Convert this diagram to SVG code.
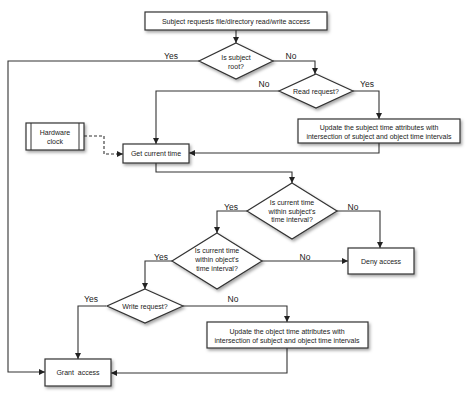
<svg xmlns="http://www.w3.org/2000/svg" width="474" height="403" viewBox="0 0 474 403">
<defs>
<filter id="sh" x="-20%" y="-20%" width="150%" height="170%">
<feDropShadow dx="1.5" dy="2" stdDeviation="1.5" flood-color="#000" flood-opacity="0.35"/>
</filter>
<marker id="ar" viewBox="0 0 10 10" refX="10" refY="5" markerWidth="6" markerHeight="6" orient="auto" markerUnits="userSpaceOnUse">
<path d="M0,0 L10,5 L0,10 z" fill="#222"/>
</marker>
</defs>
<style>
.n{fill:#fff;stroke:#333;stroke-width:1.2;filter:url(#sh)}
.t{font-family:"Liberation Sans",Arial,sans-serif;font-size:7px;fill:#222;text-anchor:middle}
.l{font-family:"Liberation Sans",Arial,sans-serif;font-size:8.5px;fill:#222;text-anchor:middle}
.c{fill:none;stroke:#333;stroke-width:1.1}
.a{marker-end:url(#ar)}
.d{stroke-dasharray:3,2}
</style>
<rect width="474" height="403" fill="#fff"/>
<g id="connectors">
<path class="c a" d="M236,30 V43"/>
<path class="c a" d="M199,61 H8 V372 H45"/>
<path class="c a" d="M273,61 H315 V74"/>
<path class="c a" d="M279,91 H156 V144"/>
<path class="c a" d="M353,91 H379 V119"/>
<path class="c a" d="M379,143 V153 H189"/>
<path class="c a d" d="M84,136 H104 V154 H123"/>
<path class="c a" d="M156,163 V172 H292 V183"/>
<path class="c a" d="M247,211 H217 V233"/>
<path class="c a" d="M337,211 H380 V248"/>
<path class="c a" d="M262,261 H348"/>
<path class="c a" d="M172,261 H145 V289"/>
<path class="c a" d="M106,306 H78 V359"/>
<path class="c a" d="M183,306 H287 V322"/>
<path class="c a" d="M287,348 V373 H111"/>
<text class="l" x="171" y="59">Yes</text>
<text class="l" x="291" y="59">No</text>
<text class="l" x="264" y="87">No</text>
<text class="l" x="367" y="87">Yes</text>
<text class="l" x="231" y="210">Yes</text>
<text class="l" x="353" y="210">No</text>
<text class="l" x="161" y="260">Yes</text>
<text class="l" x="305" y="260">No</text>
<text class="l" x="91" y="302">Yes</text>
<text class="l" x="233" y="302">No</text>
</g>
<g id="start">
<rect class="n" x="145" y="12" width="182" height="18"/>
<text class="t" x="236" y="23.5">Subject requests file/directory read/write access</text>
</g>
<g id="isroot">
<polygon class="n" points="236,43 273,61 236,79 199,61"/>
<text class="t" x="236" y="59.5">Is subject</text>
<text class="t" x="236" y="68.5">root?</text>
</g>
<g id="readreq">
<polygon class="n" points="316,74 353,91 316,108 279,91"/>
<text class="t" x="316" y="93.5">Read request?</text>
</g>
<g id="update1">
<rect class="n" x="298" y="119" width="162" height="24"/>
<text class="t" x="379" y="130">Update the subject time attributes with</text>
<text class="t" x="379" y="138.5">intersection of subject and object time intervals</text>
</g>
<g id="clock">
<rect class="n" x="26" y="123" width="58" height="27"/>
<line x1="31" y1="123" x2="31" y2="150" stroke="#333" stroke-width="1"/>
<line x1="79" y1="123" x2="79" y2="150" stroke="#333" stroke-width="1"/>
<text class="t" x="55" y="135">Hardware</text>
<text class="t" x="55" y="143.5">clock</text>
</g>
<g id="gettime">
<rect class="n" x="123" y="144" width="66" height="19"/>
<text class="t" x="156" y="155.5">Get current time</text>
</g>
<g id="subjint">
<polygon class="n" points="292,183 337,211 292,239 247,211"/>
<text class="t" x="292" y="205">Is current time</text>
<text class="t" x="292" y="213.5">within subject's</text>
<text class="t" x="292" y="222">time interval?</text>
</g>
<g id="deny">
<rect class="n" x="348" y="248" width="66" height="26"/>
<text class="t" x="381" y="263.5">Deny access</text>
</g>
<g id="objint">
<polygon class="n" points="217,233 262,261 217,289 172,261"/>
<text class="t" x="217" y="253">Is current time</text>
<text class="t" x="217" y="262">within object's</text>
<text class="t" x="217" y="271">time interval?</text>
</g>
<g id="writereq">
<polygon class="n" points="145,289 183,306 145,323 107,306"/>
<text class="t" x="145" y="308.5">Write request?</text>
</g>
<g id="update2">
<rect class="n" x="207" y="322" width="161" height="26"/>
<text class="t" x="287" y="333.5">Update the object time attributes with</text>
<text class="t" x="287" y="342.5">intersection of subject and object time intervals</text>
</g>
<g id="grant">
<rect class="n" x="45" y="359" width="66" height="27"/>
<text class="t" x="78" y="374.5" xml:space="preserve">Grant  access</text>
</g>
</svg>
